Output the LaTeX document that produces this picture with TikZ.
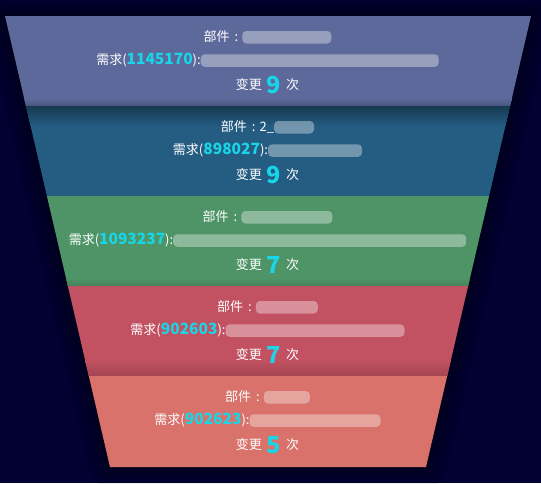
\documentclass[tikz,border=0pt]{standalone}
\usepackage{fontspec}
\setmainfont{Noto Sans CJK SC}
\definecolor{bg}{RGB}{1,1,50}
\definecolor{b1}{RGB}{93,105,154}
\definecolor{b2}{RGB}{36,92,130}
\definecolor{b3}{RGB}{78,148,102}
\definecolor{b4}{RGB}{194,82,98}
\definecolor{b5}{RGB}{216,114,106}
\definecolor{cy}{RGB}{24,214,232}
\tikzset{
  lbl/.style={text=white, inner sep=0pt, anchor=base, font=\fontsize{13}{15}\selectfont},
  halo/.style={draw=black, line join=round, draw opacity=0.07},
}
\newcommand\idnum[1]{{\color{cy}\fontsize{15.5}{17}\selectfont\bfseries #1}}
\newcommand\cnt[1]{\hspace{5pt}\raisebox{-4pt}{\color{cy}\fontsize{23.5}{25}\selectfont\bfseries #1}\hspace{5pt}}
\newcommand\blurbar[1]{\tikz[baseline=0pt]\fill[white,fill opacity=0.36,rounded corners=4pt](0pt,-2.5pt) rectangle (#1,10pt);}
\begin{document}
\begin{tikzpicture}[x=1pt,y=-1pt]
\fill[bg] (0,0) rectangle (541,483);
\useasboundingbox (0,0) rectangle (541,483);
% outer shadow
\foreach \w in {40,30,22,15,9,4}
  \draw[halo, line width=\w pt] (5,16) -- (531,16) -- (426,467) -- (110,467) -- cycle;
% bands
\fill[b1] (5,16) -- (531,16) -- (510.05,106) -- (25.95,106) -- cycle;
\shade[top color=b1, bottom color=b1!82!black] (24.09,98) -- (511.91,98) -- (510.05,106) -- (25.95,106) -- cycle;
\fill[b2] (25.95,106) -- (510.05,106) -- (489.1,196) -- (46.9,196) -- cycle;
\shade[top color=b2!62!black, bottom color=b2] (25.95,106) -- (510.05,106) -- (505.4,126) -- (30.6,126) -- cycle;
\fill[b3] (46.9,196) -- (489.1,196) -- (468.14,286) -- (67.86,286) -- cycle;
\shade[top color=b3, bottom color=b3!88!black] (66.0,278) -- (470.0,278) -- (468.14,286) -- (67.86,286) -- cycle;
\fill[b4] (67.86,286) -- (468.14,286) -- (447.2,376) -- (88.8,376) -- cycle;
\shade[top color=b4, bottom color=b4!84!black] (85.08,360) -- (450.92,360) -- (447.2,376) -- (88.8,376) -- cycle;
\fill[b5] (88.8,376) -- (447.2,376) -- (426,467) -- (110,467) -- cycle;
% band 1
\node[lbl] (n1a) at (267.5,41) {部件\hspace{5pt}:\hspace{4pt}\blurbar{89pt}};
\node[lbl] (n1b) at (267.5,64.3) {需求(\idnum{1145170}):\blurbar{238pt}};
\node[lbl] (n1c) at (267.5,89.5) {变更\cnt{9}次};
% band 2
\node[lbl] (n2a) at (267.5,131) {部件\hspace{5pt}:\hspace{4pt}2\_\blurbar{40pt}};
\node[lbl] (n2b) at (267.5,154.3) {需求(\idnum{898027}):\blurbar{94pt}};
\node[lbl] (n2c) at (267.5,179.5) {变更\cnt{9}次};
% band 3
\node[lbl] (n3a) at (267.5,221) {部件\hspace{5pt}:\hspace{4pt}\blurbar{91pt}};
\node[lbl] (n3b) at (267.5,244.3) {需求(\idnum{1093237}):\blurbar{293pt}};
\node[lbl] (n3c) at (267.5,269.5) {变更\cnt{7}次};
% band 4
\node[lbl] (n4a) at (267.5,311) {部件\hspace{5pt}:\hspace{4pt}\blurbar{62pt}};
\node[lbl] (n4b) at (267.5,334.3) {需求(\idnum{902603}):\blurbar{179pt}};
\node[lbl] (n4c) at (267.5,359.5) {变更\cnt{7}次};
% band 5
\node[lbl] (n5a) at (267.5,401) {部件\hspace{5pt}:\hspace{4pt}\blurbar{46pt}};
\node[lbl] (n5b) at (267.5,424.3) {需求(\idnum{902623}):\blurbar{131pt}};
\node[lbl] (n5c) at (267.5,449.5) {变更\cnt{5}次};
\end{tikzpicture}
\end{document}
